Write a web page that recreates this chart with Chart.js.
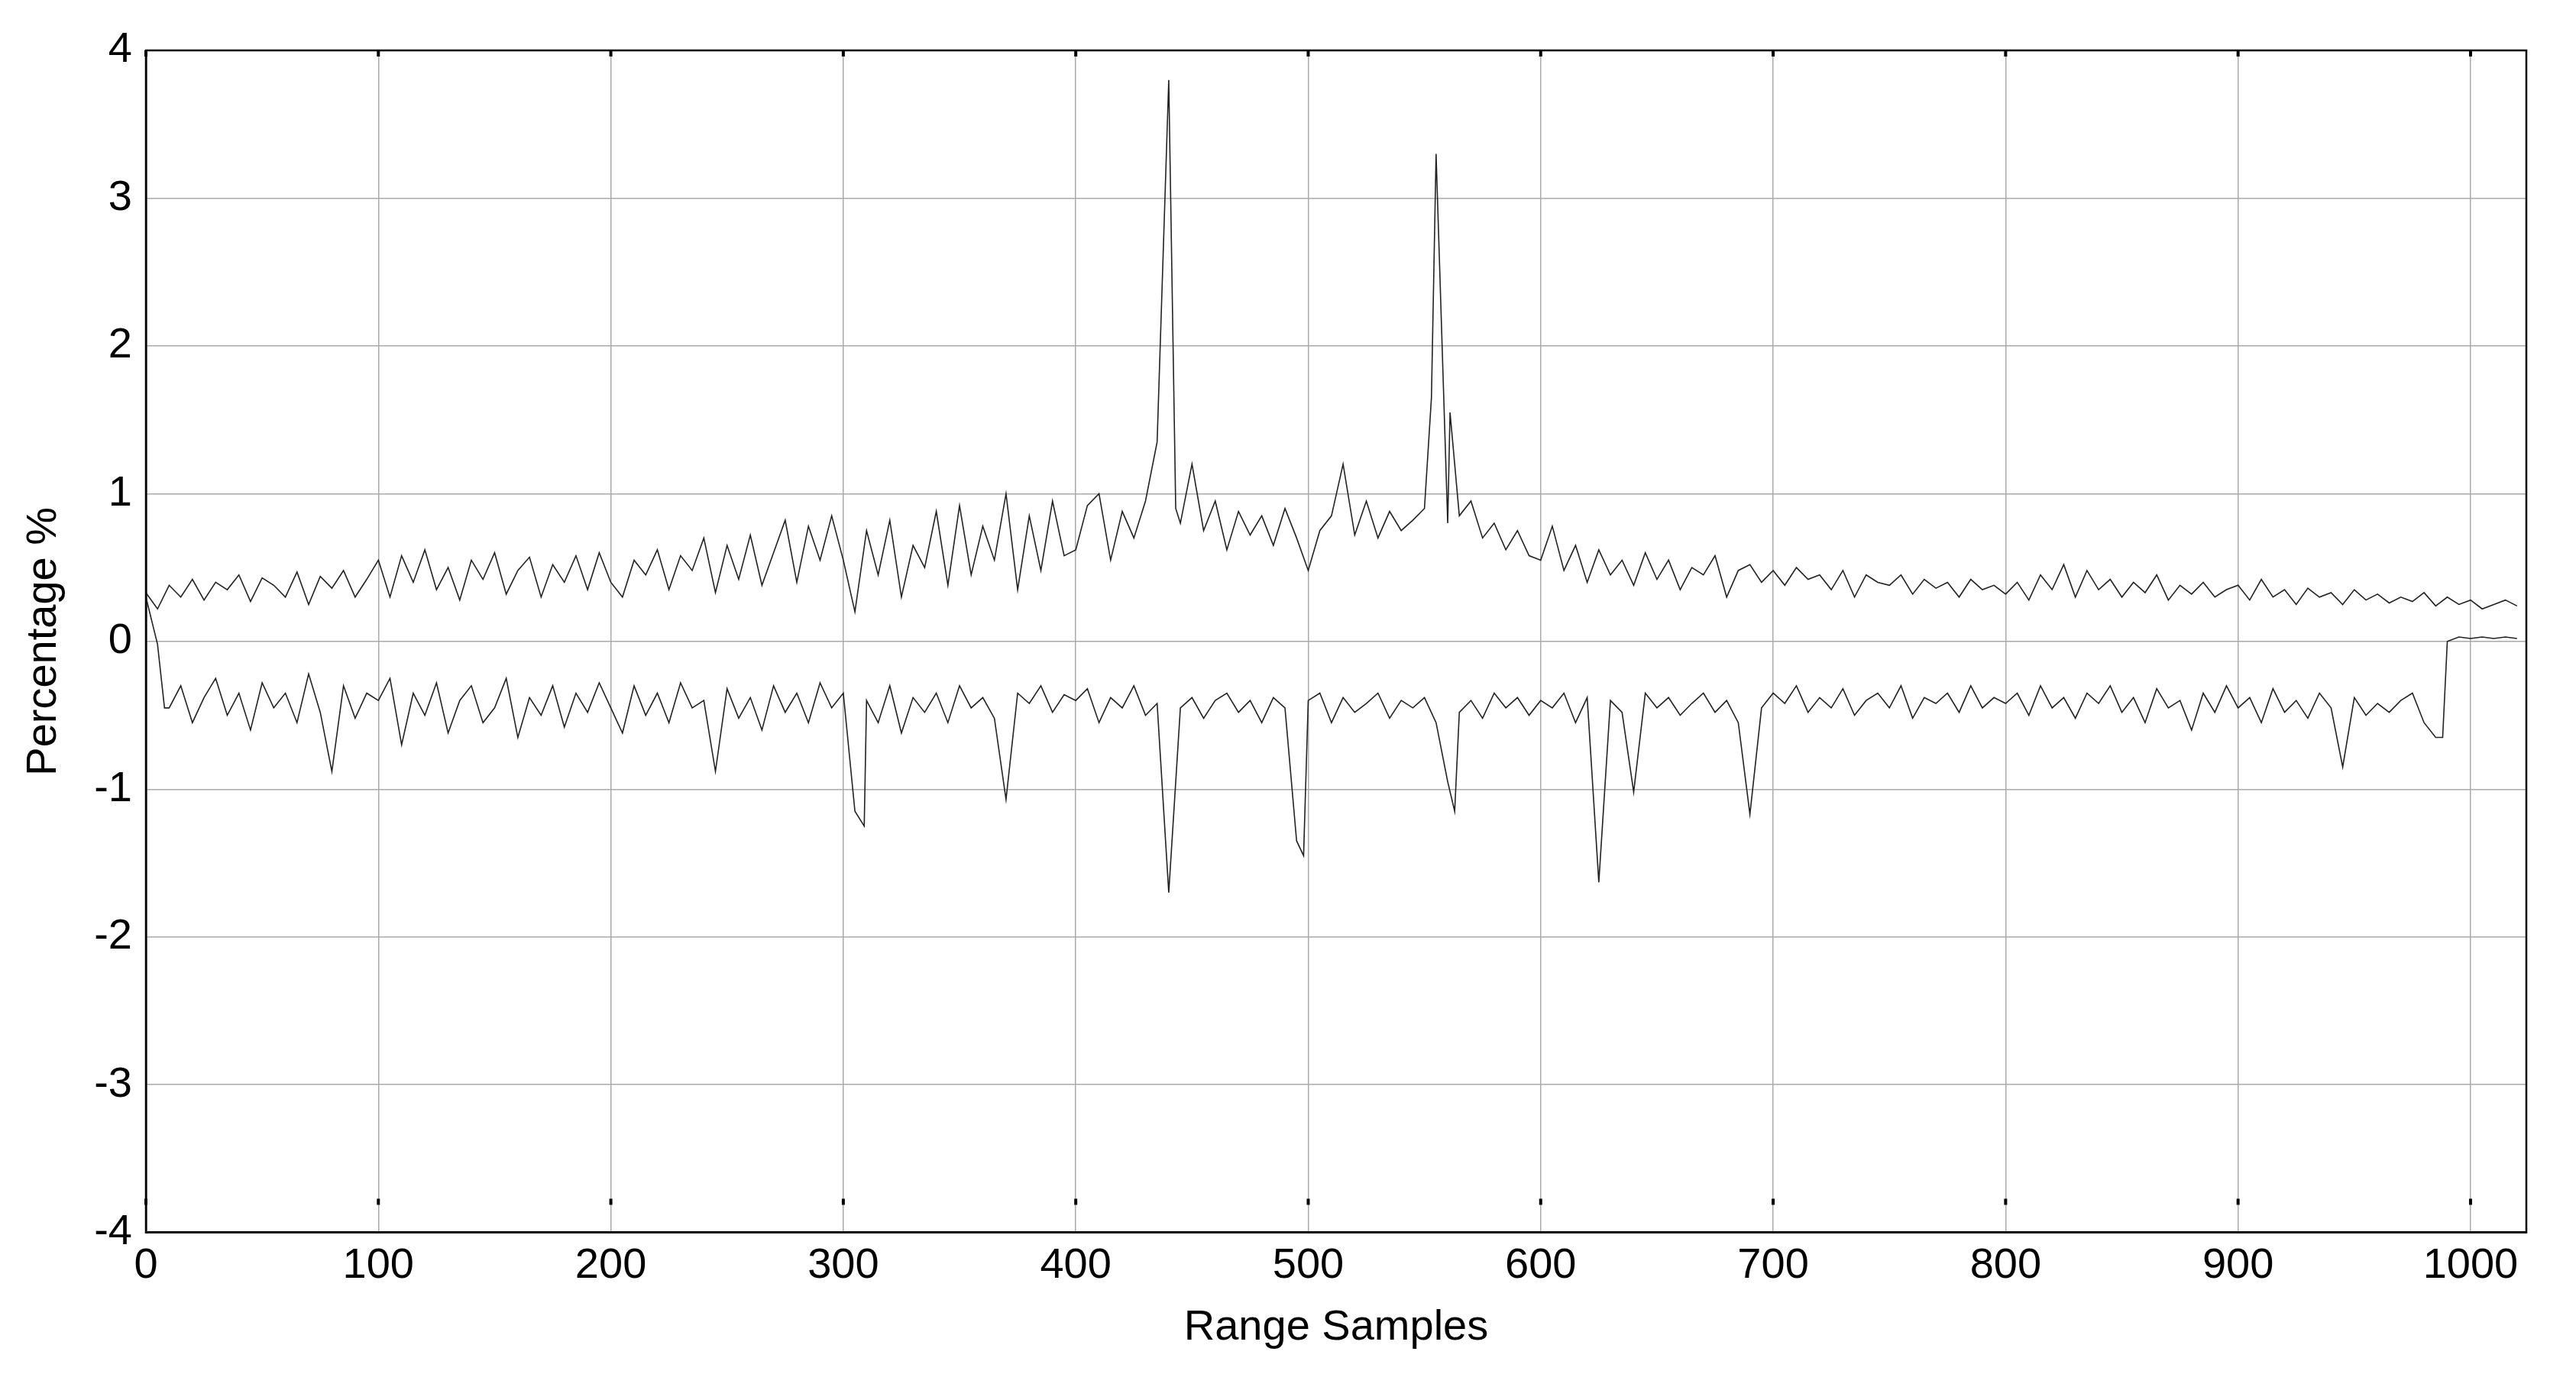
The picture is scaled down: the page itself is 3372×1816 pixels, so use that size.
<!DOCTYPE html>
<html><head><meta charset="utf-8">
<script src="https://cdn.jsdelivr.net/npm/chart.js@4"></script>
<style>html,body{margin:0;background:#fff}#c{display:block}</style>
</head><body>
<canvas id="c" width="3372" height="1816"></canvas>
<script>
// samples every 5 range bins, plus extra spike points
const STEP = 5;
const upperBase = [
 0.33,0.22,0.38,0.30,0.42,0.28,0.40,0.35,0.45,0.27,0.43,0.38,0.30,0.47,0.25,0.44,0.36,0.48,0.30,0.42,
 0.55,0.30,0.58,0.40,0.62,0.35,0.50,0.28,0.55,0.42,0.60,0.32,0.48,0.57,0.30,0.52,0.40,0.58,0.35,0.60,
 0.40,0.30,0.55,0.45,0.62,0.35,0.58,0.48,0.70,0.33,0.65,0.42,0.72,0.38,0.60,0.82,0.40,0.78,0.55,0.85,
 0.55,0.20,0.75,0.45,0.82,0.30,0.65,0.50,0.88,0.38,0.92,0.45,0.78,0.55,1.00,0.35,0.85,0.48,0.95,0.58,
 0.62,0.92,1.00,0.55,0.88,0.70,0.95,1.35,3.80,0.80,1.20,0.75,0.95,0.62,0.88,0.72,0.85,0.65,0.90,0.70,
 0.48,0.75,0.85,1.20,0.72,0.95,0.70,0.88,0.75,0.82,0.90,3.30,0.80,0.85,0.95,0.70,0.80,0.62,0.75,0.58,
 0.55,0.78,0.48,0.65,0.40,0.62,0.45,0.55,0.38,0.60,0.42,0.55,0.35,0.50,0.45,0.58,0.30,0.48,0.52,0.40,
 0.48,0.38,0.50,0.42,0.45,0.35,0.48,0.30,0.45,0.40,0.38,0.45,0.32,0.42,0.36,0.40,0.30,0.42,0.35,0.38,
 0.32,0.40,0.28,0.45,0.35,0.52,0.30,0.48,0.35,0.42,0.30,0.40,0.33,0.45,0.28,0.38,0.32,0.40,0.30,0.35,
 0.38,0.28,0.42,0.30,0.35,0.25,0.36,0.30,0.33,0.25,0.35,0.28,0.32,0.26,0.30,0.27,0.33,0.24,0.30,0.25,
 0.28,0.22,0.25,0.28,0.24
];
const upperSpikes = [[553,1.65],[561,1.55],[443,0.9]];
const lowerBase = [
 0.30,-0.02,-0.45,-0.30,-0.55,-0.38,-0.25,-0.50,-0.35,-0.60,-0.28,-0.45,-0.35,-0.55,-0.22,-0.48,-0.88,-0.30,-0.52,-0.35,
 -0.40,-0.25,-0.70,-0.35,-0.50,-0.28,-0.62,-0.40,-0.30,-0.55,-0.45,-0.25,-0.65,-0.38,-0.50,-0.30,-0.58,-0.35,-0.48,-0.28,
 -0.45,-0.62,-0.30,-0.50,-0.35,-0.55,-0.28,-0.45,-0.40,-0.88,-0.32,-0.52,-0.38,-0.60,-0.30,-0.48,-0.35,-0.55,-0.28,-0.45,
 -0.35,-1.15,-0.40,-0.55,-0.30,-0.62,-0.38,-0.48,-0.35,-0.55,-0.30,-0.45,-0.38,-0.52,-1.07,-0.35,-0.42,-0.30,-0.48,-0.36,
 -0.40,-0.32,-0.55,-0.38,-0.45,-0.30,-0.50,-0.42,-1.70,-0.45,-0.38,-0.52,-0.40,-0.35,-0.48,-0.40,-0.55,-0.38,-0.45,-1.35,
 -0.40,-0.35,-0.55,-0.38,-0.48,-0.42,-0.35,-0.52,-0.40,-0.45,-0.38,-0.55,-0.95,-0.48,-0.40,-0.52,-0.35,-0.45,-0.38,-0.50,
 -0.40,-0.45,-0.35,-0.55,-0.38,-1.63,-0.40,-0.48,-1.02,-0.35,-0.45,-0.38,-0.50,-0.42,-0.35,-0.48,-0.40,-0.55,-1.17,-0.45,
 -0.35,-0.42,-0.30,-0.48,-0.38,-0.45,-0.32,-0.50,-0.40,-0.35,-0.45,-0.30,-0.52,-0.38,-0.42,-0.35,-0.48,-0.30,-0.45,-0.38,
 -0.42,-0.35,-0.50,-0.30,-0.45,-0.38,-0.52,-0.35,-0.42,-0.30,-0.48,-0.38,-0.55,-0.32,-0.45,-0.40,-0.60,-0.35,-0.48,-0.30,
 -0.45,-0.38,-0.55,-0.32,-0.48,-0.40,-0.52,-0.35,-0.45,-0.85,-0.38,-0.50,-0.42,-0.48,-0.40,-0.35,-0.55,-0.65,0.00,0.03,
 0.02,0.03,0.02,0.03,0.02
];
const lowerSpikes = [[8,-0.45],[309,-1.25],[498,-1.45],[563,-1.15],[988,-0.65]];
const xTicks = [0,100,200,300,400,500,600,700,800,900,1000];
const yTicks = [-4,-3,-2,-1,0,1,2,3,4];

function series(base, spikes) {
  return base.map((y, i) => ({x: i * STEP, y}))
    .concat(spikes.map(p => ({x: p[0], y: p[1]})))
    .sort((a, b) => a.x - b.x);
}

const FONT = {family: 'Liberation Sans, Arial', size: 56};

const frame = {
  id: 'frame',
  afterDraw(ch) {
    const a = ch.chartArea, c = ch.ctx;
    c.save();
    c.strokeStyle = '#000'; c.lineWidth = 2.5;
    c.strokeRect(a.left, a.top, a.right - a.left, a.bottom - a.top);
    const xs = ch.scales.x;
    c.lineWidth = 4;
    xTicks.forEach(v => {
      const px = xs.getPixelForValue(v);
      c.beginPath(); c.moveTo(px, a.top); c.lineTo(px, a.top + 8);
      c.moveTo(px, a.bottom - 36); c.lineTo(px, a.bottom - 44); c.stroke();
    });
    c.restore();
  }
};

new Chart(document.getElementById('c'), {
  type: 'line',
  data: {
    datasets: [
      {data: series(upperBase, upperSpikes), borderColor: '#222', borderWidth: 1.6, pointRadius: 0, tension: 0},
      {data: series(lowerBase, lowerSpikes), borderColor: '#222', borderWidth: 1.6, pointRadius: 0, tension: 0}
    ]
  },
  options: {
    responsive: false, animation: false,
    layout: {padding: {top: 66, right: 65, left: 20, bottom: 40}},
    plugins: {legend: {display: false}, tooltip: {enabled: false}},
    scales: {
      x: {
        type: 'linear', min: 0, max: 1024,
        afterBuildTicks: s => { s.ticks = xTicks.map(v => ({value: v})); },
        ticks: {color: '#000', font: FONT, padding: 10, maxRotation: 0, callback: v => String(v)},
        grid: {color: '#aaa', lineWidth: 1.5, drawTicks: false},
        border: {color: '#000', width: 2.5},
        title: {display: true, text: 'Range Samples', color: '#000', font: FONT, padding: {top: 4}}
      },
      y: {
        min: -4, max: 4,
        afterBuildTicks: s => { s.ticks = yTicks.map(v => ({value: v})); },
        ticks: {color: '#000', font: FONT, padding: 18},
        grid: {color: '#aaa', lineWidth: 1.5, drawTicks: false},
        border: {color: '#000', width: 2.5},
        title: {display: true, text: 'Percentage %', color: '#000', font: FONT, padding: {bottom: 14}}
      }
    }
  },
  plugins: [frame]
});
</script>
</body></html>
